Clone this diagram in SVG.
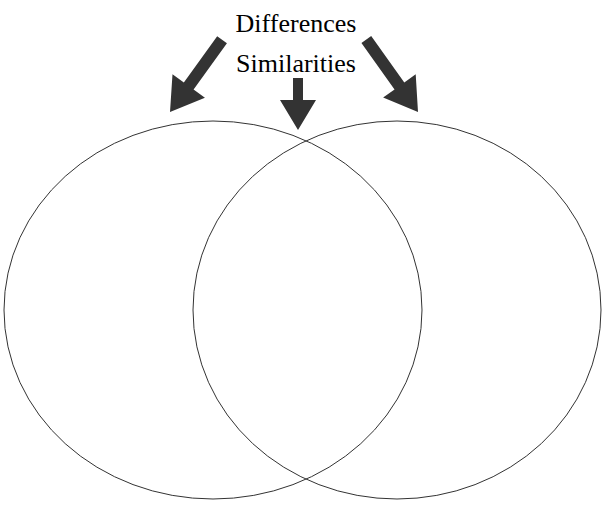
<svg xmlns="http://www.w3.org/2000/svg" width="604" height="509" viewBox="0 0 604 509">
<style>
.c{fill:none;stroke:#333;stroke-width:1}
.a{fill:#333}
.t{font-family:"Liberation Serif",serif;font-size:26px;fill:#000;text-anchor:middle}
</style>
<defs>
<path id="arr" d="M-6,-89 L6,-89 L6,-32 L20,-32 L0,0 L-20,-32 L-6,-32 Z"/>
<path id="arrs" d="M-5,-52 L5,-52 L5,-30 L18,-30 L0,0 L-18,-30 L-5,-30 Z"/>
</defs>
<rect width="604" height="509" fill="#fff"/>
<g id="left-circle"><ellipse class="c" cx="213" cy="310" rx="209" ry="189"/></g>
<g id="right-circle"><ellipse class="c" cx="397" cy="310" rx="204" ry="189"/></g>
<g id="labels">
<text class="t" x="296" y="32">Differences</text>
<text class="t" x="296" y="72">Similarities</text>
</g>
<g id="connectors" class="a">
<use href="#arr" transform="translate(170,112) rotate(35.8)"/>
<use href="#arr" transform="translate(418,112) rotate(-35.5)"/>
<use href="#arrs" transform="translate(298,130)"/>
</g>
</svg>
